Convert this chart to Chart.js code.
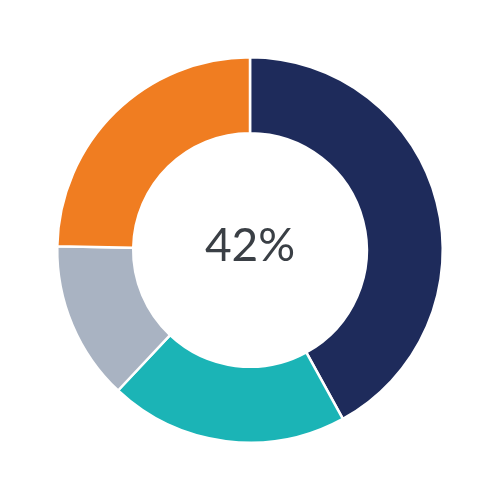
<!DOCTYPE html>
<html>
<head>
<meta charset="utf-8">
<script src="https://cdn.jsdelivr.net/npm/chart.js@4/dist/chart.umd.min.js"></script>
<style>
  html, body { margin: 0; padding: 0; background: #fff; }
  #wrap { width: 500px; height: 500px; }
</style>
</head>
<body>
<div id="wrap"><canvas id="myChart" width="500" height="500"></canvas></div>
<script>
const labels = ['A', 'B', 'C', 'D'];
const shares = [42, 20, 13.3, 24.7];
const centerLabel = '42%';

const colors = {
    navy: '#1e2b5b',
    teal: '#1bb4b6',
    gray: '#a9b3c2',
    orange: '#f07d21'
};

const centerText = {
    id: 'centerText',
    afterDraw(chart) {
        const ctx = chart.ctx;
        const meta = chart.getDatasetMeta(0).data[0];
        ctx.save();
        ctx.font = '400 46px Lato';
        ctx.fillStyle = '#3a3f45';
        ctx.textAlign = 'center';
        ctx.textBaseline = 'middle';
        ctx.fillText(centerLabel, meta.x, meta.y - 4);
        ctx.restore();
    }
};

new Chart(document.getElementById('myChart'), {
    type: 'doughnut',
    data: {
        labels: labels,
        datasets: [{
            data: shares,
            backgroundColor: [colors.navy, colors.teal, colors.gray, colors.orange],
            borderColor: '#ffffff',
            borderWidth: 2.5
        }]
    },
    options: {
        responsive: false,
        animation: false,
        cutout: '60.6%',
        layout: { padding: 56 },
        plugins: {
            legend: { display: false },
            tooltip: { enabled: false }
        }
    },
    plugins: [centerText]
});
</script>
</body>
</html>
